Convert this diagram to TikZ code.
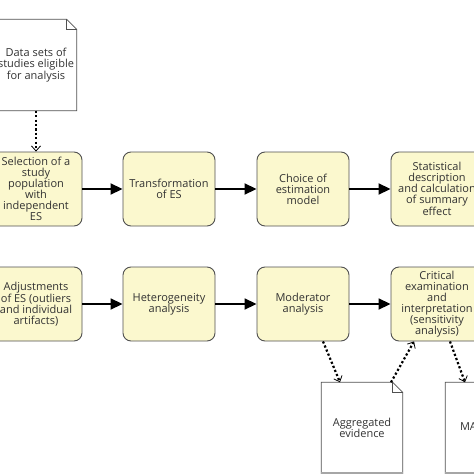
\documentclass[tikz,border=0pt]{standalone}
\usepackage{fontspec}
\setmainfont{Open Sans}
\usetikzlibrary{arrows.meta}
\definecolor{boxfill}{RGB}{251,248,206}
\definecolor{boxline}{RGB}{80,80,80}
\definecolor{txt}{RGB}{50,50,50}
\tikzset{
  stepbox/.style={draw=boxline, line width=0.9pt, fill=boxfill, rounded corners=8pt,
    minimum width=92pt, minimum height=74pt, align=center,
    text=txt, font=\fontsize{11}{11}\selectfont, inner sep=0pt},
  docnode/.style={minimum width=81pt, minimum height=91pt, align=center,
    text=txt, font=\fontsize{11}{11}\selectfont, inner sep=0pt},
  docline/.style={draw=boxline, line width=0.8pt},
  flow/.style={line width=1.8pt, -{Triangle[length=12pt,width=11pt]}},
  feed/.style={line width=2.2pt, dash pattern=on 2.2pt off 2.2pt,
    -{Straight Barb[length=5pt,width=9pt,line width=0.8pt]}}
}
\newcommand{\docframe}[1]{%
  \draw[docline] (#1.south west) -- (#1.north west) -- ([xshift=-10pt]#1.north east)
    -- ([yshift=-10pt]#1.north east) -- (#1.south east) -- cycle;
  \draw[docline] ([xshift=-10pt]#1.north east) |- ([yshift=-10pt]#1.north east);}
\begin{document}
\begin{tikzpicture}[x=1pt,y=-1pt]
  \useasboundingbox (0,0) rectangle (474,474);
  % input data
  \node[docnode] (data) at (36,65) {Data sets of\\studies eligible\\for analysis};
  \docframe{data}
  % first row
  \node[stepbox] (sel) at (36,189) {Selection of a\\study\\population\\with\\independent\\ES};
  \node[stepbox] (trans) at (169,189) {Transformation\\of ES};
  \node[stepbox] (choice) at (303,189) {Choice of\\estimation\\model};
  \node[stepbox] (stat) at (437,189) {Statistical\\description\\and calculation\\of summary\\effect};
  % second row
  \node[stepbox] (adj) at (36,304) {Adjustments\\of ES (outliers\\and individual\\artifacts)};
  \node[stepbox] (het) at (169,304) {Heterogeneity\\analysis};
  \node[stepbox] (mod) at (303,304) {Moderator\\analysis};
  \node[stepbox] (crit) at (437,304) {Critical\\examination\\and\\interpretation\\(sensitivity\\analysis)};
  % outputs
  \node[docnode] (agg) at (362,428) {Aggregated\\evidence};
  \docframe{agg}
  \draw[gray!70, line width=1.5pt] ([yshift=0.8pt]agg.south west) -- ([yshift=0.8pt]agg.south east);
  \node[docnode] (ma) at (486,428) {MA report};
  \docframe{ma}
  \draw[gray!70, line width=1.5pt] ([yshift=0.8pt]ma.south west) -- ([yshift=0.8pt]ma.south east);
  % connectors
  \draw[feed] (data.south) -- (sel.north);
  \draw[flow] (sel) -- (trans);
  \draw[flow] (trans) -- (choice);
  \draw[flow] (choice) -- (stat);
  \draw[flow] (adj) -- (het);
  \draw[flow] (het) -- (mod);
  \draw[flow] (mod) -- (crit);
  \draw[feed] ([xshift=20pt]mod.south) -- ([xshift=-22pt]agg.north);
  \draw[feed] ([xshift=29pt]agg.north) -- ([xshift=-23pt]crit.south);
  \draw[feed] ([xshift=13pt]crit.south) -- ([xshift=-21pt]ma.north);
\end{tikzpicture}
\end{document}
